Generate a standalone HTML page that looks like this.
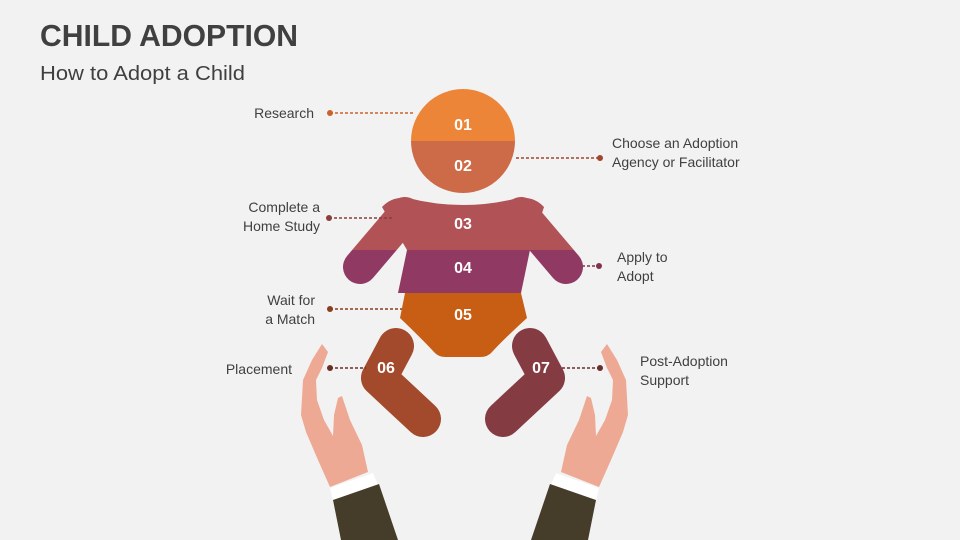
<!DOCTYPE html>
<html><head><meta charset="utf-8"><style>
html,body{margin:0;padding:0;background:#f2f2f2;}
svg{display:block;font-family:"Liberation Sans",sans-serif;}
</style></head><body>
<svg width="960" height="540" viewBox="0 0 960 540" xmlns="http://www.w3.org/2000/svg">
<rect width="960" height="540" fill="#f2f2f2"/>
<text x="40" y="46" font-size="31" font-weight="bold" fill="#404040" textLength="258" lengthAdjust="spacingAndGlyphs">CHILD ADOPTION</text>
<text x="40" y="80" font-size="20" fill="#404040" textLength="205" lengthAdjust="spacingAndGlyphs">How to Adopt a Child</text>

<defs>
<mask id="body">
<rect width="960" height="540" fill="black"/>
<path d="M382,207 Q392,196 408,198 Q463,212 518,198 Q534,196 544,207 L530,250 L521,293 L398,293 L407,250 Z" fill="white"/>
<line x1="405" y1="214" x2="360" y2="267" stroke="white" stroke-width="34" stroke-linecap="round"/>
<line x1="521" y1="214" x2="566" y2="267" stroke="white" stroke-width="34" stroke-linecap="round"/>
<path d="M405,293 L521,293 L527,318 Q505,338 492,352 Q488,357 480,357 L446,357 Q438,357 434,352 Q421,338 400,318 Z" fill="white"/>
</mask>
</defs>

<path d="M411,141 A52,52 0 0 1 515,141 Z" fill="#ed8539"/>
<path d="M411,141 A52,52 0 0 0 515,141 Z" fill="#cd6a47"/>

<g mask="url(#body)">
<rect x="300" y="180" width="330" height="70" fill="#b05256"/>
<rect x="300" y="250" width="330" height="43" fill="#903a63"/>
<rect x="300" y="293" width="330" height="70" fill="#c85e14"/>
</g>

<polyline points="396,346 379,378 423,419" fill="none" stroke="#a24a2b" stroke-width="36" stroke-linecap="round" stroke-linejoin="round"/>
<polyline points="530,346 547,378 503,419" fill="none" stroke="#843c42" stroke-width="36" stroke-linecap="round" stroke-linejoin="round"/>

<g font-weight="bold" font-size="16" fill="#fff" text-anchor="middle">
<text x="463" y="130">01</text>
<text x="463" y="171">02</text>
<text x="463" y="229">03</text>
<text x="463" y="273">04</text>
<text x="463" y="320">05</text>
<text x="386" y="373">06</text>
<text x="541" y="373">07</text>
</g>

<g id="lh">
<path d="M322,344 L328,352 L322,368 L316,380 L317,400 L324,420 L333,436 L334,415 L338,398 L342,396 L350,420 L362,445 L368,472 L330,487 L318,460 L306,432 L301,415 L303,380 L312,360 Z" fill="#eea994"/>
<path d="M330,488 L373,473 L378,485 L333,500 Z" fill="#fff"/>
<path d="M333,500 L379,484 L398,540 L341,540 Z" fill="#453c2a"/>
</g>
<use href="#lh" transform="translate(929,0) scale(-1,1)"/>

<g stroke-width="1.6" stroke-dasharray="3,2" fill="none">
<line x1="330" y1="113" x2="414" y2="113" stroke="#c9632a"/>
<line x1="516" y1="158" x2="600" y2="158" stroke="#a0462d"/>
<line x1="329" y1="218" x2="392" y2="218" stroke="#8a3e3e"/>
<line x1="582" y1="266" x2="599" y2="266" stroke="#7f3350"/>
<line x1="330" y1="309" x2="402" y2="309" stroke="#8a3e20"/>
<line x1="330" y1="368" x2="366" y2="368" stroke="#6b2e22"/>
<line x1="562" y1="368" x2="600" y2="368" stroke="#6b2e2e"/>
</g>
<g>
<circle cx="330" cy="113" r="3" fill="#c9632a"/>
<circle cx="600" cy="158" r="3" fill="#a0462d"/>
<circle cx="329" cy="218" r="3" fill="#8a3e3e"/>
<circle cx="599" cy="266" r="3" fill="#7f3350"/>
<circle cx="330" cy="309" r="3" fill="#8a3e20"/>
<circle cx="330" cy="368" r="3" fill="#6b2e22"/>
<circle cx="600" cy="368" r="3" fill="#6b2e2e"/>
</g>

<g font-size="14" fill="#404040">
<text x="314" y="118" text-anchor="end">Research</text>
<text x="612" y="148">Choose an Adoption</text>
<text x="612" y="167">Agency or Facilitator</text>
<text x="320" y="212" text-anchor="end">Complete a</text>
<text x="320" y="231" text-anchor="end">Home Study</text>
<text x="617" y="262">Apply  to</text>
<text x="617" y="281">Adopt</text>
<text x="315" y="305" text-anchor="end">Wait for</text>
<text x="315" y="324" text-anchor="end">a Match</text>
<text x="292" y="374" text-anchor="end">Placement</text>
<text x="640" y="366">Post-Adoption</text>
<text x="640" y="385">Support</text>
</g>
</svg>
</body></html>
